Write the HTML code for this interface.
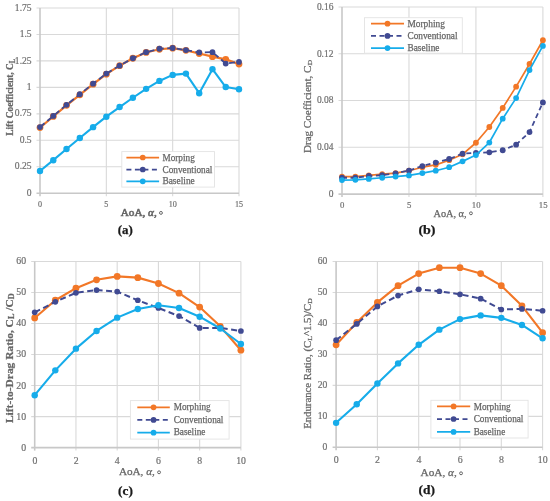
<!DOCTYPE html>
<html><head><meta charset="utf-8"><style>
html,body{margin:0;padding:0;background:#fff;width:550px;height:501px;overflow:hidden}
svg{display:block;font-family:"Liberation Serif", serif;will-change:transform}

</style></head><body><div id="w">
<svg width="550" height="501" viewBox="0 0 550 501">
<rect width="550" height="501" fill="#fff"/>
<line x1="36.50" y1="166.74" x2="239.00" y2="166.74" stroke="#D9D9D9" stroke-width="1.1"/>
<line x1="36.50" y1="140.29" x2="239.00" y2="140.29" stroke="#D9D9D9" stroke-width="1.1"/>
<line x1="36.50" y1="113.83" x2="239.00" y2="113.83" stroke="#D9D9D9" stroke-width="1.1"/>
<line x1="36.50" y1="87.37" x2="239.00" y2="87.37" stroke="#D9D9D9" stroke-width="1.1"/>
<line x1="36.50" y1="60.91" x2="239.00" y2="60.91" stroke="#D9D9D9" stroke-width="1.1"/>
<line x1="36.50" y1="34.46" x2="239.00" y2="34.46" stroke="#D9D9D9" stroke-width="1.1"/>
<line x1="36.50" y1="8.00" x2="239.00" y2="8.00" stroke="#D9D9D9" stroke-width="1.1"/>
<line x1="106.33" y1="8.00" x2="106.33" y2="196.20" stroke="#D9D9D9" stroke-width="1.1"/>
<line x1="172.67" y1="8.00" x2="172.67" y2="196.20" stroke="#D9D9D9" stroke-width="1.1"/>
<line x1="239.00" y1="8.00" x2="239.00" y2="196.20" stroke="#D9D9D9" stroke-width="1.1"/>
<line x1="40.00" y1="8.00" x2="40.00" y2="196.20" stroke="#C8C8C8" stroke-width="1.6"/>
<line x1="36.50" y1="193.20" x2="239.00" y2="193.20" stroke="#C8C8C8" stroke-width="1.6"/>
<text transform="translate(31.64,195.85) scale(0.9786,1)" text-anchor="end" font-size="9.8" fill="#707070" stroke="#707070" stroke-width="0.2">0</text>
<text transform="translate(31.64,169.39) scale(0.9786,1)" text-anchor="end" font-size="9.8" fill="#707070" stroke="#707070" stroke-width="0.2">0.25</text>
<text transform="translate(31.64,142.94) scale(0.9786,1)" text-anchor="end" font-size="9.8" fill="#707070" stroke="#707070" stroke-width="0.2">0.5</text>
<text transform="translate(31.64,116.48) scale(0.9786,1)" text-anchor="end" font-size="9.8" fill="#707070" stroke="#707070" stroke-width="0.2">0.75</text>
<text transform="translate(31.64,90.02) scale(0.9786,1)" text-anchor="end" font-size="9.8" fill="#707070" stroke="#707070" stroke-width="0.2">1</text>
<text transform="translate(31.64,63.56) scale(0.9786,1)" text-anchor="end" font-size="9.8" fill="#707070" stroke="#707070" stroke-width="0.2">1.25</text>
<text transform="translate(31.64,37.11) scale(0.9786,1)" text-anchor="end" font-size="9.8" fill="#707070" stroke="#707070" stroke-width="0.2">1.5</text>
<text transform="translate(31.64,10.65) scale(0.9786,1)" text-anchor="end" font-size="9.8" fill="#707070" stroke="#707070" stroke-width="0.2">1.75</text>
<text transform="translate(40.03,206.65) scale(0.9528,1)" text-anchor="middle" font-size="8.5" fill="#707070" stroke="#707070" stroke-width="0.2">0</text>
<text transform="translate(106.37,206.65) scale(0.9528,1)" text-anchor="middle" font-size="8.5" fill="#707070" stroke="#707070" stroke-width="0.2">5</text>
<text transform="translate(172.70,206.65) scale(0.9528,1)" text-anchor="middle" font-size="8.5" fill="#707070" stroke="#707070" stroke-width="0.2">10</text>
<text transform="translate(239.03,206.65) scale(0.9528,1)" text-anchor="middle" font-size="8.5" fill="#707070" stroke="#707070" stroke-width="0.2">15</text>
<polyline points="40.00,127.59 53.27,116.47 66.53,105.36 79.80,94.78 93.07,84.20 106.33,74.14 119.60,65.68 132.87,58.27 146.13,52.45 159.40,49.27 172.67,48.21 185.93,50.33 199.20,53.51 212.47,56.68 225.73,59.33 239.00,64.09" fill="none" stroke="#F27727" stroke-width="2.2" stroke-linejoin="round"/>
<circle cx="40.00" cy="127.59" r="3.4" fill="#F27727"/>
<circle cx="53.27" cy="116.47" r="3.4" fill="#F27727"/>
<circle cx="66.53" cy="105.36" r="3.4" fill="#F27727"/>
<circle cx="79.80" cy="94.78" r="3.4" fill="#F27727"/>
<circle cx="93.07" cy="84.20" r="3.4" fill="#F27727"/>
<circle cx="106.33" cy="74.14" r="3.4" fill="#F27727"/>
<circle cx="119.60" cy="65.68" r="3.4" fill="#F27727"/>
<circle cx="132.87" cy="58.27" r="3.4" fill="#F27727"/>
<circle cx="146.13" cy="52.45" r="3.4" fill="#F27727"/>
<circle cx="159.40" cy="49.27" r="3.4" fill="#F27727"/>
<circle cx="172.67" cy="48.21" r="3.4" fill="#F27727"/>
<circle cx="185.93" cy="50.33" r="3.4" fill="#F27727"/>
<circle cx="199.20" cy="53.51" r="3.4" fill="#F27727"/>
<circle cx="212.47" cy="56.68" r="3.4" fill="#F27727"/>
<circle cx="225.73" cy="59.33" r="3.4" fill="#F27727"/>
<circle cx="239.00" cy="64.09" r="3.4" fill="#F27727"/>
<polyline points="40.00,127.06 53.27,115.95 66.53,104.83 79.80,94.25 93.07,83.67 106.33,73.61 119.60,65.68 132.87,58.27 146.13,52.13 159.40,48.74 172.67,48.00 185.93,50.12 199.20,52.45 212.47,52.13 225.73,63.56 239.00,61.97" fill="none" stroke="#404A92" stroke-width="1.8" stroke-dasharray="6,3.5" stroke-linejoin="round"/>
<circle cx="40.00" cy="127.06" r="2.9" fill="#404A92"/>
<circle cx="53.27" cy="115.95" r="2.9" fill="#404A92"/>
<circle cx="66.53" cy="104.83" r="2.9" fill="#404A92"/>
<circle cx="79.80" cy="94.25" r="2.9" fill="#404A92"/>
<circle cx="93.07" cy="83.67" r="2.9" fill="#404A92"/>
<circle cx="106.33" cy="73.61" r="2.9" fill="#404A92"/>
<circle cx="119.60" cy="65.68" r="2.9" fill="#404A92"/>
<circle cx="132.87" cy="58.27" r="2.9" fill="#404A92"/>
<circle cx="146.13" cy="52.13" r="2.9" fill="#404A92"/>
<circle cx="159.40" cy="48.74" r="2.9" fill="#404A92"/>
<circle cx="172.67" cy="48.00" r="2.9" fill="#404A92"/>
<circle cx="185.93" cy="50.12" r="2.9" fill="#404A92"/>
<circle cx="199.20" cy="52.45" r="2.9" fill="#404A92"/>
<circle cx="212.47" cy="52.13" r="2.9" fill="#404A92"/>
<circle cx="225.73" cy="63.56" r="2.9" fill="#404A92"/>
<circle cx="239.00" cy="61.97" r="2.9" fill="#404A92"/>
<polyline points="40.00,170.98 53.27,160.18 66.53,148.96 79.80,138.06 93.07,127.16 106.33,116.69 119.60,107.06 132.87,97.74 146.13,88.85 159.40,80.92 172.67,74.88 185.93,73.61 199.20,93.19 212.47,69.17 225.73,87.05 239.00,89.28" fill="none" stroke="#16ACEA" stroke-width="2.1" stroke-linejoin="round"/>
<circle cx="40.00" cy="170.98" r="3.2" fill="#16ACEA"/>
<circle cx="53.27" cy="160.18" r="3.2" fill="#16ACEA"/>
<circle cx="66.53" cy="148.96" r="3.2" fill="#16ACEA"/>
<circle cx="79.80" cy="138.06" r="3.2" fill="#16ACEA"/>
<circle cx="93.07" cy="127.16" r="3.2" fill="#16ACEA"/>
<circle cx="106.33" cy="116.69" r="3.2" fill="#16ACEA"/>
<circle cx="119.60" cy="107.06" r="3.2" fill="#16ACEA"/>
<circle cx="132.87" cy="97.74" r="3.2" fill="#16ACEA"/>
<circle cx="146.13" cy="88.85" r="3.2" fill="#16ACEA"/>
<circle cx="159.40" cy="80.92" r="3.2" fill="#16ACEA"/>
<circle cx="172.67" cy="74.88" r="3.2" fill="#16ACEA"/>
<circle cx="185.93" cy="73.61" r="3.2" fill="#16ACEA"/>
<circle cx="199.20" cy="93.19" r="3.2" fill="#16ACEA"/>
<circle cx="212.47" cy="69.17" r="3.2" fill="#16ACEA"/>
<circle cx="225.73" cy="87.05" r="3.2" fill="#16ACEA"/>
<circle cx="239.00" cy="89.28" r="3.2" fill="#16ACEA"/>
<rect x="121.80" y="151.60" width="92.70" height="35.50" fill="#fff" stroke="#E3E3E3" stroke-width="0.9"/>
<line x1="126.40" y1="157.50" x2="159.10" y2="157.50" stroke="#F27727" stroke-width="1.75"/>
<circle cx="142.75" cy="157.50" r="2.85" fill="#F27727"/>
<text x="162.45" y="161.10" font-size="9.8" font-weight="normal" fill="#666666" stroke="#666666" stroke-width="0.25" textLength="32.31" lengthAdjust="spacingAndGlyphs">Morping</text>
<line x1="126.40" y1="169.50" x2="159.10" y2="169.50" stroke="#404A92" stroke-width="1.75" stroke-dasharray="5,3.5"/>
<circle cx="142.75" cy="169.50" r="2.85" fill="#404A92"/>
<text x="162.45" y="172.90" font-size="9.8" font-weight="normal" fill="#666666" stroke="#666666" stroke-width="0.25" textLength="50.01" lengthAdjust="spacingAndGlyphs">Conventional</text>
<line x1="126.40" y1="181.30" x2="159.10" y2="181.30" stroke="#16ACEA" stroke-width="1.75"/>
<circle cx="142.75" cy="181.30" r="2.85" fill="#16ACEA"/>
<text x="162.45" y="184.40" font-size="9.8" font-weight="normal" fill="#666666" stroke="#666666" stroke-width="0.25" textLength="32.31" lengthAdjust="spacingAndGlyphs">Baseline</text>
<text transform="translate(13.40,135.75) rotate(-90)" font-size="11.2" font-weight="bold" fill="#666666" stroke="#666666" stroke-width="0.25" textLength="77.11" lengthAdjust="spacingAndGlyphs">Lift Coefficient, C<tspan font-size="72%" dy="1.2">L</tspan></text>
<text x="120.80" y="215.60" font-size="10.0" font-weight="normal" fill="#666666" stroke="#666666" stroke-width="0.55" textLength="35.98" lengthAdjust="spacingAndGlyphs">AoA, <tspan font-style="italic">α</tspan>,</text>
<circle cx="160.95" cy="212.9" r="1.45" fill="none" stroke="#666666" stroke-width="1"/>
<text x="117.80" y="233.90" font-size="12.5" font-weight="bold" fill="#1a1a1a" stroke="#1a1a1a" stroke-width="0.25" textLength="15.10" lengthAdjust="spacingAndGlyphs">(a)</text>
<line x1="338.50" y1="147.32" x2="542.90" y2="147.32" stroke="#D9D9D9" stroke-width="1.1"/>
<line x1="338.50" y1="100.55" x2="542.90" y2="100.55" stroke="#D9D9D9" stroke-width="1.1"/>
<line x1="338.50" y1="53.78" x2="542.90" y2="53.78" stroke="#D9D9D9" stroke-width="1.1"/>
<line x1="338.50" y1="7.00" x2="542.90" y2="7.00" stroke="#D9D9D9" stroke-width="1.1"/>
<line x1="408.97" y1="7.00" x2="408.97" y2="197.10" stroke="#D9D9D9" stroke-width="1.1"/>
<line x1="475.93" y1="7.00" x2="475.93" y2="197.10" stroke="#D9D9D9" stroke-width="1.1"/>
<line x1="542.90" y1="7.00" x2="542.90" y2="197.10" stroke="#D9D9D9" stroke-width="1.1"/>
<line x1="342.00" y1="7.00" x2="342.00" y2="197.10" stroke="#C8C8C8" stroke-width="1.6"/>
<line x1="338.50" y1="194.10" x2="542.90" y2="194.10" stroke="#C8C8C8" stroke-width="1.6"/>
<text transform="translate(333.45,196.88) scale(0.9674,1)" text-anchor="end" font-size="9.8" fill="#707070" stroke="#707070" stroke-width="0.2">0</text>
<text transform="translate(333.45,150.10) scale(0.9674,1)" text-anchor="end" font-size="9.8" fill="#707070" stroke="#707070" stroke-width="0.2">0.04</text>
<text transform="translate(333.45,103.33) scale(0.9674,1)" text-anchor="end" font-size="9.8" fill="#707070" stroke="#707070" stroke-width="0.2">0.08</text>
<text transform="translate(333.45,56.55) scale(0.9674,1)" text-anchor="end" font-size="9.8" fill="#707070" stroke="#707070" stroke-width="0.2">0.12</text>
<text transform="translate(333.45,9.78) scale(0.9674,1)" text-anchor="end" font-size="9.8" fill="#707070" stroke="#707070" stroke-width="0.2">0.16</text>
<text transform="translate(342.29,207.80) scale(0.9945,1)" text-anchor="middle" font-size="8.8" fill="#707070" stroke="#707070" stroke-width="0.2">0</text>
<text transform="translate(409.26,207.80) scale(0.9945,1)" text-anchor="middle" font-size="8.8" fill="#707070" stroke="#707070" stroke-width="0.2">5</text>
<text transform="translate(476.22,207.80) scale(0.9945,1)" text-anchor="middle" font-size="8.8" fill="#707070" stroke="#707070" stroke-width="0.2">10</text>
<text transform="translate(543.19,207.80) scale(0.9945,1)" text-anchor="middle" font-size="8.8" fill="#707070" stroke="#707070" stroke-width="0.2">15</text>
<polyline points="342.00,176.56 355.39,176.56 368.79,175.39 382.18,174.22 395.57,173.05 408.97,170.71 422.36,167.20 435.75,164.87 449.15,160.19 462.54,154.34 475.93,142.76 489.33,126.98 502.72,107.92 516.11,86.63 529.51,63.95 542.90,40.21" fill="none" stroke="#F27727" stroke-width="1.7" stroke-linejoin="round"/>
<circle cx="342.00" cy="176.56" r="2.9" fill="#F27727"/>
<circle cx="355.39" cy="176.56" r="2.9" fill="#F27727"/>
<circle cx="368.79" cy="175.39" r="2.9" fill="#F27727"/>
<circle cx="382.18" cy="174.22" r="2.9" fill="#F27727"/>
<circle cx="395.57" cy="173.05" r="2.9" fill="#F27727"/>
<circle cx="408.97" cy="170.71" r="2.9" fill="#F27727"/>
<circle cx="422.36" cy="167.20" r="2.9" fill="#F27727"/>
<circle cx="435.75" cy="164.87" r="2.9" fill="#F27727"/>
<circle cx="449.15" cy="160.19" r="2.9" fill="#F27727"/>
<circle cx="462.54" cy="154.34" r="2.9" fill="#F27727"/>
<circle cx="475.93" cy="142.76" r="2.9" fill="#F27727"/>
<circle cx="489.33" cy="126.98" r="2.9" fill="#F27727"/>
<circle cx="502.72" cy="107.92" r="2.9" fill="#F27727"/>
<circle cx="516.11" cy="86.63" r="2.9" fill="#F27727"/>
<circle cx="529.51" cy="63.95" r="2.9" fill="#F27727"/>
<circle cx="542.90" cy="40.21" r="2.9" fill="#F27727"/>
<polyline points="342.00,177.73 355.39,177.73 368.79,175.97 382.18,175.16 395.57,173.29 408.97,170.60 422.36,166.03 435.75,162.53 449.15,159.02 462.54,153.64 475.93,152.94 489.33,152.35 502.72,150.25 516.11,144.64 529.51,132.12 542.90,102.42" fill="none" stroke="#404A92" stroke-width="1.8" stroke-dasharray="5,3.5" stroke-linejoin="round"/>
<circle cx="342.00" cy="177.73" r="2.9" fill="#404A92"/>
<circle cx="355.39" cy="177.73" r="2.9" fill="#404A92"/>
<circle cx="368.79" cy="175.97" r="2.9" fill="#404A92"/>
<circle cx="382.18" cy="175.16" r="2.9" fill="#404A92"/>
<circle cx="395.57" cy="173.29" r="2.9" fill="#404A92"/>
<circle cx="408.97" cy="170.60" r="2.9" fill="#404A92"/>
<circle cx="422.36" cy="166.03" r="2.9" fill="#404A92"/>
<circle cx="435.75" cy="162.53" r="2.9" fill="#404A92"/>
<circle cx="449.15" cy="159.02" r="2.9" fill="#404A92"/>
<circle cx="462.54" cy="153.64" r="2.9" fill="#404A92"/>
<circle cx="475.93" cy="152.94" r="2.9" fill="#404A92"/>
<circle cx="489.33" cy="152.35" r="2.9" fill="#404A92"/>
<circle cx="502.72" cy="150.25" r="2.9" fill="#404A92"/>
<circle cx="516.11" cy="144.64" r="2.9" fill="#404A92"/>
<circle cx="529.51" cy="132.12" r="2.9" fill="#404A92"/>
<circle cx="542.90" cy="102.42" r="2.9" fill="#404A92"/>
<polyline points="342.00,180.07 355.39,179.83 368.79,178.90 382.18,177.73 395.57,176.56 408.97,175.39 422.36,173.05 435.75,170.71 449.15,167.20 462.54,161.36 475.93,155.04 489.33,142.53 502.72,118.68 516.11,98.09 529.51,70.03 542.90,45.94" fill="none" stroke="#16ACEA" stroke-width="1.7" stroke-linejoin="round"/>
<circle cx="342.00" cy="180.07" r="2.9" fill="#16ACEA"/>
<circle cx="355.39" cy="179.83" r="2.9" fill="#16ACEA"/>
<circle cx="368.79" cy="178.90" r="2.9" fill="#16ACEA"/>
<circle cx="382.18" cy="177.73" r="2.9" fill="#16ACEA"/>
<circle cx="395.57" cy="176.56" r="2.9" fill="#16ACEA"/>
<circle cx="408.97" cy="175.39" r="2.9" fill="#16ACEA"/>
<circle cx="422.36" cy="173.05" r="2.9" fill="#16ACEA"/>
<circle cx="435.75" cy="170.71" r="2.9" fill="#16ACEA"/>
<circle cx="449.15" cy="167.20" r="2.9" fill="#16ACEA"/>
<circle cx="462.54" cy="161.36" r="2.9" fill="#16ACEA"/>
<circle cx="475.93" cy="155.04" r="2.9" fill="#16ACEA"/>
<circle cx="489.33" cy="142.53" r="2.9" fill="#16ACEA"/>
<circle cx="502.72" cy="118.68" r="2.9" fill="#16ACEA"/>
<circle cx="516.11" cy="98.09" r="2.9" fill="#16ACEA"/>
<circle cx="529.51" cy="70.03" r="2.9" fill="#16ACEA"/>
<circle cx="542.90" cy="45.94" r="2.9" fill="#16ACEA"/>
<rect x="364.50" y="17.70" width="97.80" height="35.50" fill="#fff" stroke="#E3E3E3" stroke-width="0.9"/>
<line x1="371.00" y1="23.70" x2="404.00" y2="23.70" stroke="#F27727" stroke-width="1.75"/>
<circle cx="387.50" cy="23.70" r="2.85" fill="#F27727"/>
<text x="407.45" y="26.80" font-size="9.8" font-weight="normal" fill="#666666" stroke="#666666" stroke-width="0.25" textLength="37.51" lengthAdjust="spacingAndGlyphs">Morphing</text>
<line x1="371.00" y1="35.90" x2="404.00" y2="35.90" stroke="#404A92" stroke-width="1.75" stroke-dasharray="5,3.5"/>
<circle cx="387.50" cy="35.90" r="2.85" fill="#404A92"/>
<text x="407.45" y="38.60" font-size="9.8" font-weight="normal" fill="#666666" stroke="#666666" stroke-width="0.25" textLength="50.11" lengthAdjust="spacingAndGlyphs">Conventional</text>
<line x1="371.00" y1="48.10" x2="404.00" y2="48.10" stroke="#16ACEA" stroke-width="1.75"/>
<circle cx="387.50" cy="48.10" r="2.85" fill="#16ACEA"/>
<text x="407.45" y="50.70" font-size="9.8" font-weight="normal" fill="#666666" stroke="#666666" stroke-width="0.25" textLength="32.01" lengthAdjust="spacingAndGlyphs">Baseline</text>
<text transform="translate(310.80,153.05) rotate(-90)" font-size="9.8" font-weight="normal" fill="#666666" stroke="#666666" stroke-width="0.25" textLength="93.21" lengthAdjust="spacingAndGlyphs">Drag Coefficient, C<tspan font-size="72%" dy="1.2">D</tspan></text>
<text x="433.50" y="216.80" font-size="10.0" font-weight="normal" fill="#666666" stroke="#666666" stroke-width="0.25" textLength="33.01" lengthAdjust="spacingAndGlyphs">AoA, α,</text>
<circle cx="470.95" cy="213.3" r="1.45" fill="none" stroke="#666666" stroke-width="1"/>
<text x="418.40" y="233.75" font-size="12.5" font-weight="bold" fill="#1a1a1a" stroke="#1a1a1a" stroke-width="0.25" textLength="17.11" lengthAdjust="spacingAndGlyphs">(b)</text>
<line x1="31.20" y1="416.58" x2="240.90" y2="416.58" stroke="#D9D9D9" stroke-width="1.1"/>
<line x1="31.20" y1="385.57" x2="240.90" y2="385.57" stroke="#D9D9D9" stroke-width="1.1"/>
<line x1="31.20" y1="354.55" x2="240.90" y2="354.55" stroke="#D9D9D9" stroke-width="1.1"/>
<line x1="31.20" y1="323.53" x2="240.90" y2="323.53" stroke="#D9D9D9" stroke-width="1.1"/>
<line x1="31.20" y1="292.52" x2="240.90" y2="292.52" stroke="#D9D9D9" stroke-width="1.1"/>
<line x1="31.20" y1="261.50" x2="240.90" y2="261.50" stroke="#D9D9D9" stroke-width="1.1"/>
<line x1="75.94" y1="261.50" x2="75.94" y2="450.60" stroke="#D9D9D9" stroke-width="1.1"/>
<line x1="117.18" y1="261.50" x2="117.18" y2="450.60" stroke="#D9D9D9" stroke-width="1.1"/>
<line x1="158.42" y1="261.50" x2="158.42" y2="450.60" stroke="#D9D9D9" stroke-width="1.1"/>
<line x1="199.66" y1="261.50" x2="199.66" y2="450.60" stroke="#D9D9D9" stroke-width="1.1"/>
<line x1="240.90" y1="261.50" x2="240.90" y2="450.60" stroke="#D9D9D9" stroke-width="1.1"/>
<line x1="34.70" y1="261.50" x2="34.70" y2="450.60" stroke="#C8C8C8" stroke-width="1.6"/>
<line x1="31.20" y1="447.60" x2="240.90" y2="447.60" stroke="#C8C8C8" stroke-width="1.6"/>
<text transform="translate(26.15,450.53) scale(1.0053,1)" text-anchor="end" font-size="9.8" fill="#707070" stroke="#707070" stroke-width="0.2">0</text>
<text transform="translate(26.15,419.52) scale(1.0053,1)" text-anchor="end" font-size="9.8" fill="#707070" stroke="#707070" stroke-width="0.2">10</text>
<text transform="translate(26.15,388.50) scale(1.0053,1)" text-anchor="end" font-size="9.8" fill="#707070" stroke="#707070" stroke-width="0.2">20</text>
<text transform="translate(26.15,357.48) scale(1.0053,1)" text-anchor="end" font-size="9.8" fill="#707070" stroke="#707070" stroke-width="0.2">30</text>
<text transform="translate(26.15,326.47) scale(1.0053,1)" text-anchor="end" font-size="9.8" fill="#707070" stroke="#707070" stroke-width="0.2">40</text>
<text transform="translate(26.15,295.45) scale(1.0053,1)" text-anchor="end" font-size="9.8" fill="#707070" stroke="#707070" stroke-width="0.2">50</text>
<text transform="translate(26.15,264.43) scale(1.0053,1)" text-anchor="end" font-size="9.8" fill="#707070" stroke="#707070" stroke-width="0.2">60</text>
<text transform="translate(34.82,463.75) scale(0.9940,1)" text-anchor="middle" font-size="9.8" fill="#707070" stroke="#707070" stroke-width="0.2">0</text>
<text transform="translate(76.06,463.75) scale(0.9940,1)" text-anchor="middle" font-size="9.8" fill="#707070" stroke="#707070" stroke-width="0.2">2</text>
<text transform="translate(117.30,463.75) scale(0.9940,1)" text-anchor="middle" font-size="9.8" fill="#707070" stroke="#707070" stroke-width="0.2">4</text>
<text transform="translate(158.54,463.75) scale(0.9940,1)" text-anchor="middle" font-size="9.8" fill="#707070" stroke="#707070" stroke-width="0.2">6</text>
<text transform="translate(199.78,463.75) scale(0.9940,1)" text-anchor="middle" font-size="9.8" fill="#707070" stroke="#707070" stroke-width="0.2">8</text>
<text transform="translate(241.02,463.75) scale(0.9940,1)" text-anchor="middle" font-size="9.8" fill="#707070" stroke="#707070" stroke-width="0.2">10</text>
<polyline points="34.70,317.95 55.32,300.27 75.94,288.17 96.56,279.80 117.18,276.39 137.80,277.63 158.42,283.52 179.04,293.14 199.66,307.09 220.28,326.32 240.90,350.21" fill="none" stroke="#F27727" stroke-width="2.1" stroke-linejoin="round"/>
<circle cx="34.70" cy="317.95" r="3.4" fill="#F27727"/>
<circle cx="55.32" cy="300.27" r="3.4" fill="#F27727"/>
<circle cx="75.94" cy="288.17" r="3.4" fill="#F27727"/>
<circle cx="96.56" cy="279.80" r="3.4" fill="#F27727"/>
<circle cx="117.18" cy="276.39" r="3.4" fill="#F27727"/>
<circle cx="137.80" cy="277.63" r="3.4" fill="#F27727"/>
<circle cx="158.42" cy="283.52" r="3.4" fill="#F27727"/>
<circle cx="179.04" cy="293.14" r="3.4" fill="#F27727"/>
<circle cx="199.66" cy="307.09" r="3.4" fill="#F27727"/>
<circle cx="220.28" cy="326.32" r="3.4" fill="#F27727"/>
<circle cx="240.90" cy="350.21" r="3.4" fill="#F27727"/>
<polyline points="34.70,312.37 55.32,301.82 75.94,292.83 96.56,290.04 117.18,291.59 137.80,300.27 158.42,308.02 179.04,316.09 199.66,327.88 220.28,327.88 240.90,330.98" fill="none" stroke="#404A92" stroke-width="2.0" stroke-dasharray="6,3.5" stroke-linejoin="round"/>
<circle cx="34.70" cy="312.37" r="2.85" fill="#404A92"/>
<circle cx="55.32" cy="301.82" r="2.85" fill="#404A92"/>
<circle cx="75.94" cy="292.83" r="2.85" fill="#404A92"/>
<circle cx="96.56" cy="290.04" r="2.85" fill="#404A92"/>
<circle cx="117.18" cy="291.59" r="2.85" fill="#404A92"/>
<circle cx="137.80" cy="300.27" r="2.85" fill="#404A92"/>
<circle cx="158.42" cy="308.02" r="2.85" fill="#404A92"/>
<circle cx="179.04" cy="316.09" r="2.85" fill="#404A92"/>
<circle cx="199.66" cy="327.88" r="2.85" fill="#404A92"/>
<circle cx="220.28" cy="327.88" r="2.85" fill="#404A92"/>
<circle cx="240.90" cy="330.98" r="2.85" fill="#404A92"/>
<polyline points="34.70,395.18 55.32,370.37 75.94,348.66 96.56,330.98 117.18,317.64 137.80,308.96 158.42,305.23 179.04,308.02 199.66,316.71 220.28,328.50 240.90,344.00" fill="none" stroke="#16ACEA" stroke-width="2.1" stroke-linejoin="round"/>
<circle cx="34.70" cy="395.18" r="3.2" fill="#16ACEA"/>
<circle cx="55.32" cy="370.37" r="3.2" fill="#16ACEA"/>
<circle cx="75.94" cy="348.66" r="3.2" fill="#16ACEA"/>
<circle cx="96.56" cy="330.98" r="3.2" fill="#16ACEA"/>
<circle cx="117.18" cy="317.64" r="3.2" fill="#16ACEA"/>
<circle cx="137.80" cy="308.96" r="3.2" fill="#16ACEA"/>
<circle cx="158.42" cy="305.23" r="3.2" fill="#16ACEA"/>
<circle cx="179.04" cy="308.02" r="3.2" fill="#16ACEA"/>
<circle cx="199.66" cy="316.71" r="3.2" fill="#16ACEA"/>
<circle cx="220.28" cy="328.50" r="3.2" fill="#16ACEA"/>
<circle cx="240.90" cy="344.00" r="3.2" fill="#16ACEA"/>
<rect x="130.40" y="400.60" width="98.70" height="38.50" fill="#fff" stroke="#E3E3E3" stroke-width="0.9"/>
<line x1="137.30" y1="407.30" x2="169.80" y2="407.30" stroke="#F27727" stroke-width="1.75"/>
<circle cx="153.55" cy="407.30" r="2.85" fill="#F27727"/>
<text x="173.65" y="410.40" font-size="9.8" font-weight="normal" fill="#666666" stroke="#666666" stroke-width="0.25" textLength="37.12" lengthAdjust="spacingAndGlyphs">Morphing</text>
<line x1="137.30" y1="419.90" x2="169.80" y2="419.90" stroke="#404A92" stroke-width="1.75" stroke-dasharray="5,3.5"/>
<circle cx="153.55" cy="419.90" r="2.85" fill="#404A92"/>
<text x="173.65" y="422.80" font-size="9.8" font-weight="normal" fill="#666666" stroke="#666666" stroke-width="0.25" textLength="49.81" lengthAdjust="spacingAndGlyphs">Conventional</text>
<line x1="137.30" y1="432.70" x2="169.80" y2="432.70" stroke="#16ACEA" stroke-width="1.75"/>
<circle cx="153.55" cy="432.70" r="2.85" fill="#16ACEA"/>
<text x="173.65" y="435.20" font-size="9.8" font-weight="normal" fill="#666666" stroke="#666666" stroke-width="0.25" textLength="31.82" lengthAdjust="spacingAndGlyphs">Baseline</text>
<text transform="translate(12.80,423.05) rotate(-90)" font-size="11.2" font-weight="bold" fill="#666666" stroke="#666666" stroke-width="0.25" textLength="129.70" lengthAdjust="spacingAndGlyphs">Lift-to-Drag Ratio, C<tspan font-size="72%" dy="1.2">L</tspan><tspan dy="-1.2"> /C</tspan><tspan font-size="72%" dy="1.2">D</tspan></text>
<text x="118.90" y="475.40" font-size="10.0" font-weight="normal" fill="#666666" stroke="#666666" stroke-width="0.25" textLength="35.97" lengthAdjust="spacingAndGlyphs">AoA, <tspan font-style="italic">α</tspan>,</text>
<circle cx="159.05" cy="472.3" r="1.45" fill="none" stroke="#666666" stroke-width="1"/>
<text x="118.10" y="494.50" font-size="12.5" font-weight="bold" fill="#1a1a1a" stroke="#1a1a1a" stroke-width="0.25" textLength="14.78" lengthAdjust="spacingAndGlyphs">(c)</text>
<line x1="332.60" y1="416.33" x2="542.60" y2="416.33" stroke="#D9D9D9" stroke-width="1.1"/>
<line x1="332.60" y1="385.37" x2="542.60" y2="385.37" stroke="#D9D9D9" stroke-width="1.1"/>
<line x1="332.60" y1="354.40" x2="542.60" y2="354.40" stroke="#D9D9D9" stroke-width="1.1"/>
<line x1="332.60" y1="323.43" x2="542.60" y2="323.43" stroke="#D9D9D9" stroke-width="1.1"/>
<line x1="332.60" y1="292.47" x2="542.60" y2="292.47" stroke="#D9D9D9" stroke-width="1.1"/>
<line x1="332.60" y1="261.50" x2="542.60" y2="261.50" stroke="#D9D9D9" stroke-width="1.1"/>
<line x1="377.40" y1="261.50" x2="377.40" y2="450.30" stroke="#D9D9D9" stroke-width="1.1"/>
<line x1="418.70" y1="261.50" x2="418.70" y2="450.30" stroke="#D9D9D9" stroke-width="1.1"/>
<line x1="460.00" y1="261.50" x2="460.00" y2="450.30" stroke="#D9D9D9" stroke-width="1.1"/>
<line x1="501.30" y1="261.50" x2="501.30" y2="450.30" stroke="#D9D9D9" stroke-width="1.1"/>
<line x1="542.60" y1="261.50" x2="542.60" y2="450.30" stroke="#D9D9D9" stroke-width="1.1"/>
<line x1="336.10" y1="261.50" x2="336.10" y2="450.30" stroke="#C8C8C8" stroke-width="1.6"/>
<line x1="332.60" y1="447.30" x2="542.60" y2="447.30" stroke="#C8C8C8" stroke-width="1.6"/>
<text transform="translate(327.34,450.08) scale(0.9837,1)" text-anchor="end" font-size="9.8" fill="#707070" stroke="#707070" stroke-width="0.2">0</text>
<text transform="translate(327.34,419.12) scale(0.9837,1)" text-anchor="end" font-size="9.8" fill="#707070" stroke="#707070" stroke-width="0.2">10</text>
<text transform="translate(327.34,388.15) scale(0.9837,1)" text-anchor="end" font-size="9.8" fill="#707070" stroke="#707070" stroke-width="0.2">20</text>
<text transform="translate(327.34,357.18) scale(0.9837,1)" text-anchor="end" font-size="9.8" fill="#707070" stroke="#707070" stroke-width="0.2">30</text>
<text transform="translate(327.34,326.22) scale(0.9837,1)" text-anchor="end" font-size="9.8" fill="#707070" stroke="#707070" stroke-width="0.2">40</text>
<text transform="translate(327.34,295.25) scale(0.9837,1)" text-anchor="end" font-size="9.8" fill="#707070" stroke="#707070" stroke-width="0.2">50</text>
<text transform="translate(327.34,264.28) scale(0.9837,1)" text-anchor="end" font-size="9.8" fill="#707070" stroke="#707070" stroke-width="0.2">60</text>
<text transform="translate(336.28,462.75) scale(1.0064,1)" text-anchor="middle" font-size="9.8" fill="#707070" stroke="#707070" stroke-width="0.2">0</text>
<text transform="translate(377.58,462.75) scale(1.0064,1)" text-anchor="middle" font-size="9.8" fill="#707070" stroke="#707070" stroke-width="0.2">2</text>
<text transform="translate(418.88,462.75) scale(1.0064,1)" text-anchor="middle" font-size="9.8" fill="#707070" stroke="#707070" stroke-width="0.2">4</text>
<text transform="translate(460.18,462.75) scale(1.0064,1)" text-anchor="middle" font-size="9.8" fill="#707070" stroke="#707070" stroke-width="0.2">6</text>
<text transform="translate(501.48,462.75) scale(1.0064,1)" text-anchor="middle" font-size="9.8" fill="#707070" stroke="#707070" stroke-width="0.2">8</text>
<text transform="translate(542.78,462.75) scale(1.0064,1)" text-anchor="middle" font-size="9.8" fill="#707070" stroke="#707070" stroke-width="0.2">10</text>
<polyline points="336.10,344.80 356.75,322.50 377.40,302.38 398.05,285.65 418.70,273.58 439.35,267.69 460.00,267.69 480.65,273.58 501.30,285.65 521.95,305.78 542.60,332.72" fill="none" stroke="#F27727" stroke-width="2.1" stroke-linejoin="round"/>
<circle cx="336.10" cy="344.80" r="3.4" fill="#F27727"/>
<circle cx="356.75" cy="322.50" r="3.4" fill="#F27727"/>
<circle cx="377.40" cy="302.38" r="3.4" fill="#F27727"/>
<circle cx="398.05" cy="285.65" r="3.4" fill="#F27727"/>
<circle cx="418.70" cy="273.58" r="3.4" fill="#F27727"/>
<circle cx="439.35" cy="267.69" r="3.4" fill="#F27727"/>
<circle cx="460.00" cy="267.69" r="3.4" fill="#F27727"/>
<circle cx="480.65" cy="273.58" r="3.4" fill="#F27727"/>
<circle cx="501.30" cy="285.65" r="3.4" fill="#F27727"/>
<circle cx="521.95" cy="305.78" r="3.4" fill="#F27727"/>
<circle cx="542.60" cy="332.72" r="3.4" fill="#F27727"/>
<polyline points="336.10,340.16 356.75,323.90 377.40,306.40 398.05,295.56 418.70,289.37 439.35,291.23 460.00,294.32 480.65,298.66 501.30,309.50 521.95,308.88 542.60,310.74" fill="none" stroke="#404A92" stroke-width="2.0" stroke-dasharray="6,3.5" stroke-linejoin="round"/>
<circle cx="336.10" cy="340.16" r="2.85" fill="#404A92"/>
<circle cx="356.75" cy="323.90" r="2.85" fill="#404A92"/>
<circle cx="377.40" cy="306.40" r="2.85" fill="#404A92"/>
<circle cx="398.05" cy="295.56" r="2.85" fill="#404A92"/>
<circle cx="418.70" cy="289.37" r="2.85" fill="#404A92"/>
<circle cx="439.35" cy="291.23" r="2.85" fill="#404A92"/>
<circle cx="460.00" cy="294.32" r="2.85" fill="#404A92"/>
<circle cx="480.65" cy="298.66" r="2.85" fill="#404A92"/>
<circle cx="501.30" cy="309.50" r="2.85" fill="#404A92"/>
<circle cx="521.95" cy="308.88" r="2.85" fill="#404A92"/>
<circle cx="542.60" cy="310.74" r="2.85" fill="#404A92"/>
<polyline points="336.10,422.84 356.75,404.26 377.40,383.51 398.05,363.38 418.70,344.80 439.35,329.63 460.00,319.10 480.65,315.38 501.30,317.86 521.95,324.98 542.60,338.30" fill="none" stroke="#16ACEA" stroke-width="2.1" stroke-linejoin="round"/>
<circle cx="336.10" cy="422.84" r="3.2" fill="#16ACEA"/>
<circle cx="356.75" cy="404.26" r="3.2" fill="#16ACEA"/>
<circle cx="377.40" cy="383.51" r="3.2" fill="#16ACEA"/>
<circle cx="398.05" cy="363.38" r="3.2" fill="#16ACEA"/>
<circle cx="418.70" cy="344.80" r="3.2" fill="#16ACEA"/>
<circle cx="439.35" cy="329.63" r="3.2" fill="#16ACEA"/>
<circle cx="460.00" cy="319.10" r="3.2" fill="#16ACEA"/>
<circle cx="480.65" cy="315.38" r="3.2" fill="#16ACEA"/>
<circle cx="501.30" cy="317.86" r="3.2" fill="#16ACEA"/>
<circle cx="521.95" cy="324.98" r="3.2" fill="#16ACEA"/>
<circle cx="542.60" cy="338.30" r="3.2" fill="#16ACEA"/>
<rect x="430.90" y="400.30" width="97.20" height="37.70" fill="#fff" stroke="#E3E3E3" stroke-width="0.9"/>
<line x1="437.00" y1="406.40" x2="470.20" y2="406.40" stroke="#F27727" stroke-width="1.75"/>
<circle cx="453.60" cy="406.40" r="2.85" fill="#F27727"/>
<text x="473.65" y="409.80" font-size="9.8" font-weight="normal" fill="#666666" stroke="#666666" stroke-width="0.25" textLength="37.12" lengthAdjust="spacingAndGlyphs">Morphing</text>
<line x1="437.00" y1="419.00" x2="470.20" y2="419.00" stroke="#404A92" stroke-width="1.75" stroke-dasharray="5,3.5"/>
<circle cx="453.60" cy="419.00" r="2.85" fill="#404A92"/>
<text x="473.65" y="422.20" font-size="9.8" font-weight="normal" fill="#666666" stroke="#666666" stroke-width="0.25" textLength="49.81" lengthAdjust="spacingAndGlyphs">Conventional</text>
<line x1="437.00" y1="431.90" x2="470.20" y2="431.90" stroke="#16ACEA" stroke-width="1.75"/>
<circle cx="453.60" cy="431.90" r="2.85" fill="#16ACEA"/>
<text x="473.65" y="434.90" font-size="9.8" font-weight="normal" fill="#666666" stroke="#666666" stroke-width="0.25" textLength="31.61" lengthAdjust="spacingAndGlyphs">Baseline</text>
<text transform="translate(310.60,428.85) rotate(-90)" font-size="9.8" font-weight="normal" fill="#666666" stroke="#666666" stroke-width="0.25" textLength="130.60" lengthAdjust="spacingAndGlyphs">Endurance Ratio, (C<tspan font-size="72%" dy="1.2">L</tspan><tspan dy="-1.2">^1.5)/C</tspan><tspan font-size="72%" dy="1.2">D</tspan></text>
<text x="420.50" y="476.10" font-size="10.0" font-weight="normal" fill="#666666" stroke="#666666" stroke-width="0.25" textLength="36.27" lengthAdjust="spacingAndGlyphs">AoA, <tspan font-style="italic">α</tspan>,</text>
<circle cx="461.05" cy="473.3" r="1.45" fill="none" stroke="#666666" stroke-width="1"/>
<text x="418.60" y="494.32" font-size="12.5" font-weight="bold" fill="#1a1a1a" stroke="#1a1a1a" stroke-width="0.25" textLength="16.39" lengthAdjust="spacingAndGlyphs">(d)</text>
</svg></div></body></html>
